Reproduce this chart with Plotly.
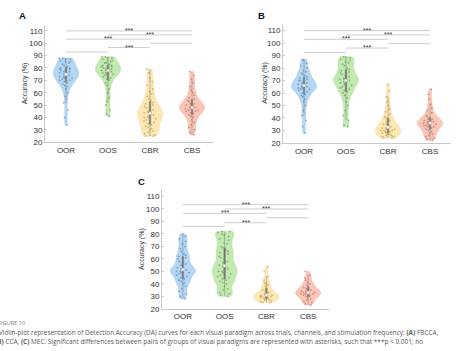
import plotly.graph_objects as go
import numpy as np

W, H = 474, 351

categories = ["OOR", "OOS", "CBR", "CBS"]
panel_letters = ["A", "B", "C"]
y_ticks = [20, 30, 40, 50, 60, 70, 80, 90, 100, 110]

# ---- Panel A (FBCCA) ----
a_oor = [88, 88, 87, 87, 86, 85, 85, 84, 83, 82, 81, 80, 80, 79, 79, 78, 78, 77, 77, 76, 76, 75,
         75, 74, 74, 73, 73, 72, 72, 71, 70, 70, 69, 68, 67, 66, 65, 63, 60, 57, 52, 46, 40, 34]
a_oos = [89, 89, 88, 88, 87, 86, 86, 85, 84, 84, 83, 82, 82, 81, 81, 80, 80, 79, 79, 79, 78, 78,
         78, 77, 77, 76, 76, 75, 75, 74, 73, 72, 71, 70, 68, 66, 63, 60, 56, 53, 50, 46, 43, 41]
a_cbr = [79, 76, 72, 69, 66, 63, 61, 59, 57, 55, 54, 52, 51, 50, 49, 48, 47, 46, 45, 45, 44, 44,
         43, 42, 42, 41, 40, 40, 39, 38, 37, 36, 35, 34, 33, 32, 31, 30, 29, 28, 27, 26, 25, 25]
a_cbs = [77, 74, 71, 68, 65, 62, 60, 58, 56, 55, 54, 53, 52, 51, 51, 50, 50, 49, 49, 48, 48, 48,
         47, 47, 46, 46, 45, 45, 44, 43, 42, 41, 40, 38, 36, 34, 32, 30, 28, 26]

# ---- Panel B (CCA) ----
b_oor = [87, 86, 84, 82, 80, 78, 77, 76, 75, 74, 73, 72, 71, 70, 70, 69, 68, 68, 67, 67, 66, 66,
         65, 65, 65, 64, 64, 63, 63, 62, 61, 60, 59, 58, 57, 55, 53, 50, 46, 42, 38, 33, 28]
b_oos = [89, 89, 88, 87, 86, 85, 84, 83, 82, 80, 79, 78, 77, 76, 75, 74, 73, 72, 72, 71, 71, 70,
         70, 69, 69, 68, 67, 66, 65, 64, 63, 62, 61, 60, 58, 56, 53, 50, 46, 42, 38, 34, 33]
b_cbr = [67, 62, 57, 53, 50, 47, 45, 43, 41, 40, 39, 38, 37, 36, 35, 35, 34, 33, 33, 32, 32, 31,
         31, 30, 30, 30, 29, 29, 28, 28, 27, 27, 26, 26, 25, 25, 24, 24]
b_cbs = [63, 59, 55, 51, 48, 46, 44, 42, 41, 40, 39, 39, 38, 38, 37, 37, 37, 36, 36, 36, 35, 35,
         34, 34, 33, 33, 32, 31, 30, 29, 28, 27, 26, 25, 24, 23, 22]

# ---- Panel C (MEC) ----
c_oor = [80, 78, 76, 74, 72, 70, 68, 66, 64, 63, 62, 61, 60, 58, 57, 56, 55, 54, 53, 52, 52, 51,
         51, 50, 50, 49, 49, 48, 47, 46, 45, 44, 43, 42, 41, 40, 38, 36, 34, 32, 30, 28]
c_oos = [82, 82, 81, 80, 79, 78, 76, 75, 73, 72, 70, 69, 67, 66, 65, 64, 62, 61, 60, 58, 57, 56,
         55, 54, 53, 52, 51, 50, 50, 49, 48, 47, 46, 45, 44, 43, 42, 41, 40, 38, 36, 35, 33, 32, 31, 30]
c_cbr = [54, 50, 46, 43, 41, 40, 39, 38, 36, 35, 34, 33, 33, 32, 32, 31, 31, 31, 30, 30, 30, 29,
         29, 29, 28, 28, 28, 27, 27, 26, 26, 25, 25]
c_cbs = [50, 47, 45, 43, 41, 40, 39, 38, 37, 36, 36, 35, 35, 34, 34, 33, 33, 33, 32, 32, 32, 31,
         31, 30, 30, 29, 28, 27, 26, 25, 24, 23]

panel_data = [[a_oor, a_oos, a_cbr, a_cbs],
              [b_oor, b_oos, b_cbr, b_cbs],
              [c_oor, c_oos, c_cbr, c_cbs]]

# significance brackets (pairs of category indices), marks and bracket levels
sig_pairs = [(0, 3), (1, 3), (0, 2), (2, 3), (1, 2), (0, 1)]
sig_marks = ["***", "***", "***", "", "***", ""]
sig_levels_a = [110, 106.7, 103.3, 100, 96.5, 93]
sig_levels_b = [110, 106.5, 103, 99.5, 96, 92.5]
sig_levels_c = [103.5, 100, 96.5, 93, 89, 86]
sig_levels = [sig_levels_a, sig_levels_b, sig_levels_c]

caption_head = "FIGURE 10"
caption_1 = ("Violin-plot representation of Detection Accuracy (DA) curves for each visual paradigm "
             "across trials, channels, and stimulation frequency: <b>(A)</b> FBCCA,")
caption_2 = ("<b>(B)</b> CCA, <b>(C)</b> MEC. Significant differences between pairs of groups of visual "
             "paradigms are represented with asterisks, such that ***p &lt; 0.001; no")

# ---- styles ----
fill_colors = ["rgba(150,200,240,0.72)", "rgba(170,225,145,0.72)",
               "rgba(252,222,150,0.72)", "rgba(247,176,155,0.72)"]
edge_colors = ["rgba(140,190,232,0.8)", "rgba(160,215,135,0.8)",
               "rgba(245,212,140,0.8)", "rgba(240,168,148,0.8)"]
point_colors = ["rgba(80,120,170,0.6)", "rgba(90,140,80,0.6)",
                "rgba(175,145,70,0.6)", "rgba(180,100,85,0.6)"]
bandwidths = [3.6, 3.2, 2.6]

FONT = "Liberation Sans, Arial, sans-serif"


def px_x(p):
    return p / W


def px_y(p):
    return 1 - p / H


# axis boxes in pixels: (left, right, top(115), bottom(20))
boxes = [(45, 213, 25.0, 144.3), (283, 451, 24.7, 145.0), (162, 329, 193.0, 313.3)]
letter_pos = [(22, 16), (261, 16), (141, 184)]
ytitle_pos = [(25, 84.5), (265, 84), (142, 252.5)]

fig = go.Figure()
annotations = []
layout_axes = {}

for k in range(3):
    sfx = "" if k == 0 else str(k + 1)
    xa, ya = "x" + sfx, "y" + sfx
    left, right, top, bottom = boxes[k]
    layout_axes["xaxis" + sfx] = dict(
        domain=[px_x(left), px_x(right)], range=[-0.5, 3.5], anchor=ya,
        tickvals=list(range(len(categories))), ticktext=categories,
        showline=True, linecolor="#c8c8c8", linewidth=1, ticks="",
        showgrid=False, zeroline=False,
        tickfont=dict(size=8, color="#333333", family=FONT))
    layout_axes["yaxis" + sfx] = dict(
        domain=[px_y(bottom), px_y(top)], range=[20, 115], anchor=xa,
        tickvals=y_ticks, showline=True, linecolor="#c8c8c8", linewidth=1,
        ticks="inside", ticklen=2, tickcolor="#c8c8c8",
        showgrid=False, zeroline=False,
        tickfont=dict(size=8, color="#333333", family=FONT))

    for i, vals in enumerate(panel_data[k]):
        fig.add_trace(go.Violin(
            x=[i] * len(vals), y=vals, xaxis=xa, yaxis=ya,
            width=0.6, scalemode="width", spanmode="hard", bandwidth=bandwidths[k],
            fillcolor=fill_colors[i], line=dict(color=edge_colors[i], width=0.5),
            points="all", pointpos=0, jitter=0.6,
            marker=dict(size=1.8, color=point_colors[i]),
            box=dict(visible=True, width=0.06, fillcolor="#707070",
                     line=dict(color="#8a8a8a", width=0.6)),
            showlegend=False, hoverinfo="skip"))
        fig.add_trace(go.Scatter(
            x=[i], y=[float(np.median(vals))], xaxis=xa, yaxis=ya, mode="markers",
            marker=dict(size=3, color="white", line=dict(color="#aaaaaa", width=0.4)),
            showlegend=False, hoverinfo="skip"))

    for (p0, p1), mark, lvl in zip(sig_pairs, sig_marks, sig_levels[k]):
        fig.add_trace(go.Scatter(
            x=[p0, p1], y=[lvl, lvl], xaxis=xa, yaxis=ya, mode="lines",
            line=dict(color="#c8c8c8", width=0.9), showlegend=False, hoverinfo="skip"))
        if mark:
            annotations.append(dict(
                x=(p0 + p1) / 2, y=lvl, xref=xa, yref=ya, text=mark, showarrow=False,
                xanchor="center", yanchor="middle", yshift=0.5,
                font=dict(size=7, color="#333333", family=FONT)))

    lx, ly = letter_pos[k]
    annotations.append(dict(x=px_x(lx), y=px_y(ly), xref="paper", yref="paper",
                            text="<b>%s</b>" % panel_letters[k], showarrow=False,
                            xanchor="center", yanchor="middle",
                            font=dict(size=9.5, color="#111111", family=FONT)))
    tx, ty = ytitle_pos[k]
    annotations.append(dict(x=px_x(tx), y=px_y(ty),
                            xref="paper", yref="paper", text="Accuracy (%)",
                            textangle=-90, showarrow=False,
                            xanchor="center", yanchor="middle",
                            font=dict(size=7, color="#333333", family=FONT)))

CAPF = "Open Sans, Noto Sans, sans-serif"
annotations.append(dict(x=px_x(-4), y=px_y(328), xref="paper", yref="paper",
                        text=caption_head, showarrow=False, xanchor="left", yanchor="middle",
                        font=dict(size=5.6, color="#777777", family=CAPF)))
annotations.append(dict(x=px_x(-3), y=px_y(337.5), xref="paper", yref="paper",
                        text=caption_1, showarrow=False, xanchor="left", yanchor="middle",
                        font=dict(size=6.45, color="#5a5a5a", family=CAPF)))
annotations.append(dict(x=px_x(-7), y=px_y(346.5), xref="paper", yref="paper",
                        text=caption_2, showarrow=False, xanchor="left", yanchor="middle",
                        font=dict(size=6.45, color="#5a5a5a", family=CAPF)))

fig.update_layout(
    width=W, height=H, margin=dict(l=0, r=0, t=0, b=0),
    paper_bgcolor="white", plot_bgcolor="white",
    violinmode="overlay", showlegend=False,
    font=dict(family=FONT), annotations=annotations, **layout_axes)

fig.write_html("out.html")
